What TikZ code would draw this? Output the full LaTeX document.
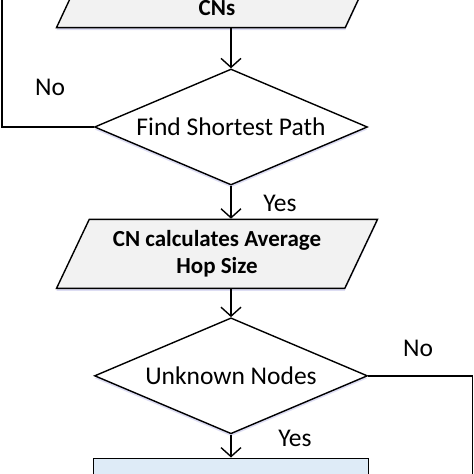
\documentclass[tikz,border=0pt]{standalone}
\usepackage{fontspec}
\setmainfont{Carlito}
\usepackage{xcolor}
\usetikzlibrary{shapes.geometric,arrows.meta,positioning,shadows}

\definecolor{iofill}{RGB}{242,242,242}
\definecolor{procfill}{RGB}{222,235,247}

\begin{document}
\begin{tikzpicture}[
  x=1pt, y=1pt,
  line width=1.4pt,
  softshadow/.style={drop shadow={shadow xshift=0pt, shadow yshift=-2.5pt,
    fill=blue!50!gray, opacity=0.18}},
  iobox/.style={trapezium, trapezium left angle=55, trapezium right angle=125,
    trapezium stretches body, draw, fill=iofill, softshadow,
    minimum width=321pt, minimum height=69pt, inner sep=0pt, align=center,
    font=\fontsize{23}{27}\selectfont\bfseries},
  decision/.style={diamond, draw, fill=white, softshadow, inner sep=0pt,
    shape aspect=2.35, minimum width=273pt, minimum height=116pt,
    font=\fontsize{25.5}{29}\selectfont},
  procbox/.style={rectangle, draw, fill=procfill, softshadow,
    minimum width=275pt, minimum height=60pt},
  arrow/.style={-{Straight Barb[length=9pt, width=20pt]}},
  lbl/.style={font=\fontsize{25.5}{29}\selectfont},
]
  \useasboundingbox (0,0) rectangle (474,474);
  \clip (0,0) rectangle (474,474);

  \node[decision] (shortest) at (231,347) {Find Shortest Path};
  \node[iobox, above=40pt of shortest, xshift=-14pt] (cns) {\strut\\CNs};
  \node[iobox, below=33pt of shortest, xshift=-14pt] (hopsize) {CN calculates Average\\Hop Size};
  \node[decision, below=28pt of hopsize.south -| shortest] (unknown) {Unknown Nodes};
  \node[procbox, below=23pt of unknown] (estimate) {};

  \coordinate (loopL) at (2,490);
  \coordinate (loopR) at (472.5,-20);

  \draw[arrow] (cns.south -| shortest) -- (shortest);
  \draw[arrow] (shortest) -- (shortest.south |- hopsize.north);
  \draw[arrow] (hopsize.south -| unknown) -- (unknown);
  \draw[arrow] (unknown) -- (estimate);
  \draw (shortest.west) -- (shortest.west -| loopL) -- (loopL);
  \draw (unknown.east) -- (unknown.east -| loopR) -- (loopR);

  \node[lbl] (no1) at (50,387) {No};
  \node[lbl] (yes1) at (280,271) {Yes};
  \node[lbl] (no2) at (418,126) {No};
  \node[lbl] (yes2) at (295,36) {Yes};
\end{tikzpicture}
\end{document}
